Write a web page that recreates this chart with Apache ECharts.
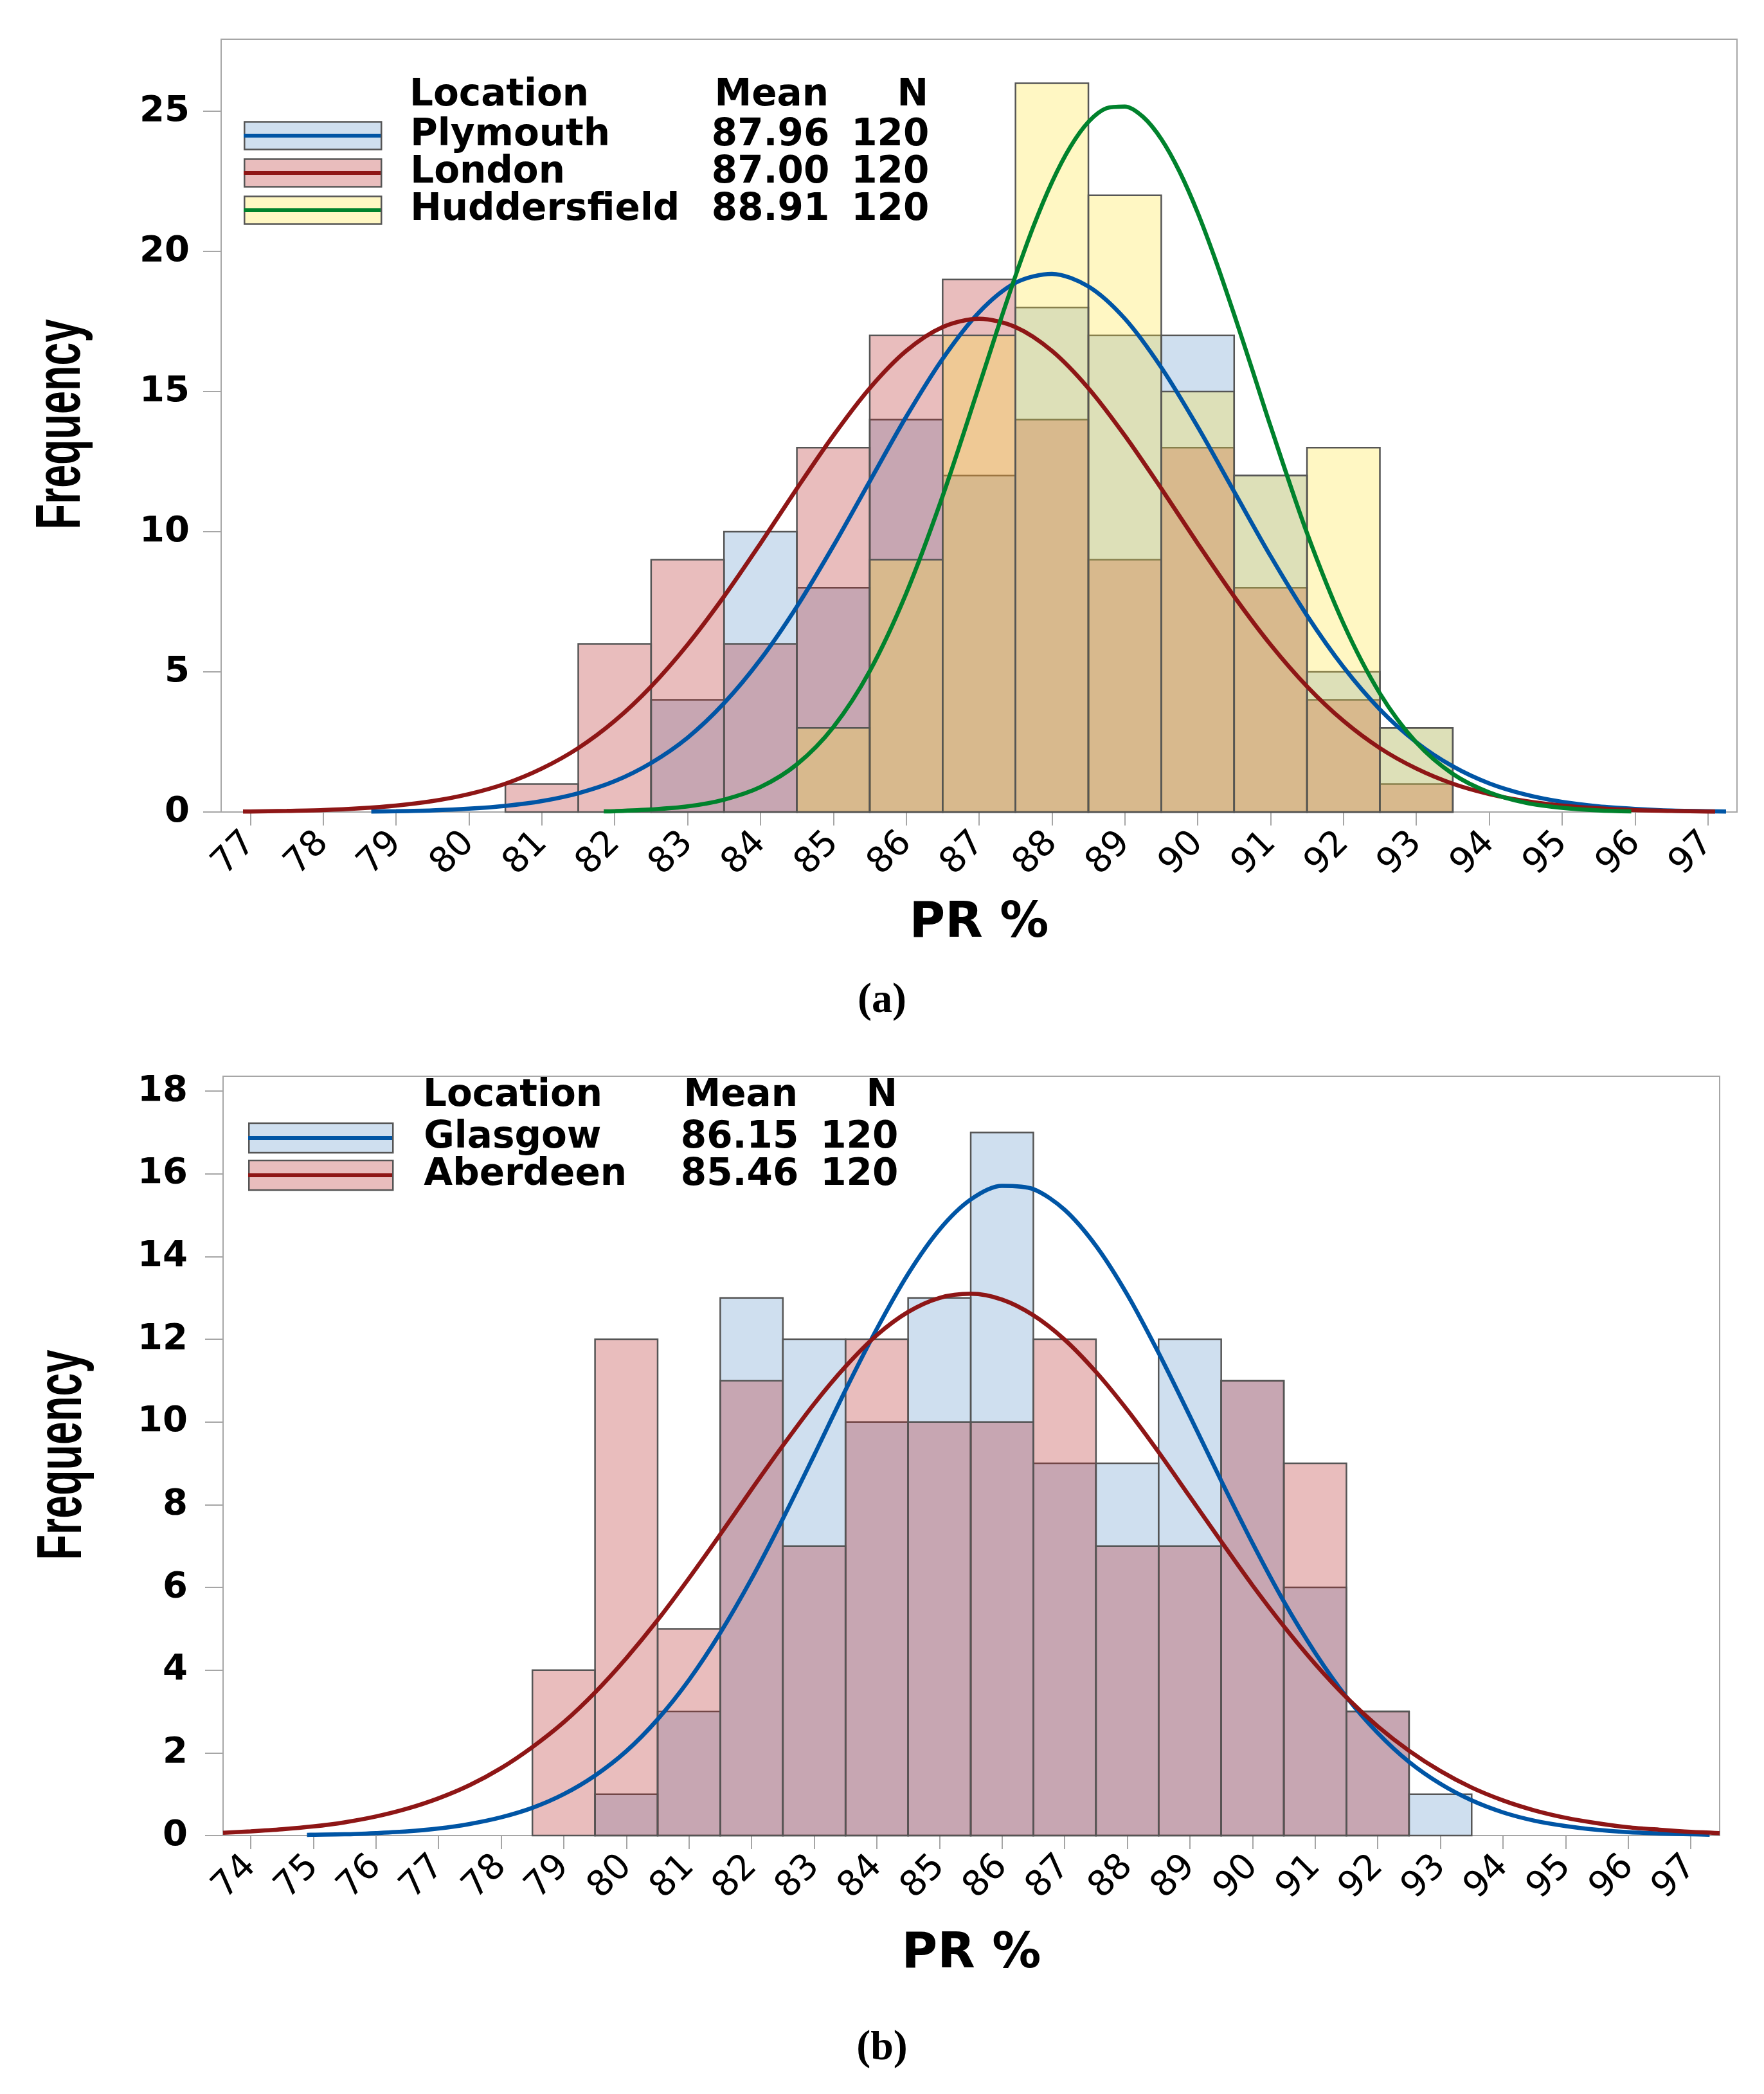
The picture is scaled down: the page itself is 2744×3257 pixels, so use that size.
<!DOCTYPE html>
<html lang="en">
<head>
  <meta charset="UTF-8">
  <title>PR % histograms</title>
  <style>
    html, body { margin: 0; padding: 0; background: #fff; }
    #main { width: 2744px; height: 3257px; }
  </style>
</head>
<body>
  <div id="main"></div>

  <script src="https://cdn.jsdelivr.net/npm/echarts@6.0.0/dist/echarts.min.js"></script>

  <script>
    // ---- chart (a) ----
    const binsA = [81, 82, 83, 84, 85, 86, 87, 88, 89, 90, 91, 92, 93]
    const plymouthA = [0, 0, 4, 10, 8, 14, 12, 18, 17, 17, 12, 5, 3]
    const londonA = [1, 6, 9, 6, 13, 17, 19, 14, 9, 13, 8, 4, 1]
    const huddA = [0, 0, 0, 0, 3, 9, 17, 26, 22, 15, 12, 13, 3]

    const locationsA = ['Plymouth', 'London', 'Huddersfield']
    const meansA = ['87.96', '87.00', '88.91']
    const countsA = [120, 120, 120]

    // fitted normal curves [PR %, frequency]
    const fitPlymouthA = [[78.66, 0.02], [79, 0.03], [79.5, 0.06], [80, 0.12], [80.5, 0.22], [81, 0.39], [81.5, 0.67], [82, 1.10], [82.5, 1.75], [83, 2.65], [83.5, 3.88], [84, 5.44], [84.5, 7.33], [85, 9.49], [85.5, 11.80], [86, 14.10], [86.5, 16.17], [87, 17.83], [87.5, 18.88], [88, 19.20], [88.5, 18.75], [89, 17.60], [89.5, 15.86], [90, 13.74], [90.5, 11.43], [91, 9.13], [91.5, 7.01], [92, 5.17], [92.5, 3.66], [93, 2.49], [93.5, 1.63], [94, 1.02], [94.5, 0.62], [95, 0.36], [95.5, 0.20], [96, 0.11], [96.5, 0.05], [97, 0.03], [97.25, 0.02]]
    const fitLondonA = [[76.9, 0.015], [77, 0.02], [77.5, 0.04], [78, 0.07], [78.5, 0.13], [79, 0.23], [79.5, 0.39], [80, 0.64], [80.5, 1.01], [81, 1.55], [81.5, 2.28], [82, 3.25], [82.5, 4.48], [83, 5.97], [83.5, 7.69], [84, 9.58], [84.5, 11.54], [85, 13.43], [85.5, 15.12], [86, 16.45], [86.5, 17.30], [87, 17.60], [87.5, 17.30], [88, 16.45], [88.5, 15.12], [89, 13.43], [89.5, 11.54], [90, 9.58], [90.5, 7.69], [91, 5.97], [91.5, 4.48], [92, 3.25], [92.5, 2.28], [93, 1.55], [93.5, 1.01], [94, 0.64], [94.5, 0.39], [95, 0.23], [95.5, 0.13], [96, 0.07], [96.5, 0.04], [97, 0.02], [97.1, 0.015]]
    const fitHuddA = [[81.85, 0.025], [82, 0.03], [82.5, 0.09], [83, 0.20], [83.5, 0.44], [84, 0.89], [84.5, 1.70], [85, 3.03], [85.5, 5.03], [86, 7.80], [86.5, 11.27], [87, 15.20], [87.25, 17.20], [87.5, 19.13], [87.75, 20.92], [88, 22.47], [88.25, 23.72], [88.5, 24.62], [88.75, 25.11], [89, 25.17], [89.25, 24.80], [89.5, 24.01], [89.75, 22.85], [90, 21.38], [90.25, 19.65], [90.5, 17.75], [90.75, 15.77], [91, 13.76], [91.5, 9.95], [92, 6.72], [92.5, 4.23], [93, 2.48], [93.5, 1.36], [94, 0.70], [94.5, 0.33], [95, 0.15], [95.5, 0.06], [95.95, 0.025]]

    const xTicksA = [77, 78, 79, 80, 81, 82, 83, 84, 85, 86, 87, 88, 89, 90, 91, 92, 93, 94, 95, 96, 97]
    const yTicksA = [0, 5, 10, 15, 20, 25]

    // ---- chart (b) ----
    const binsB = [79, 80, 81, 82, 83, 84, 85, 86, 87, 88, 89, 90, 91, 92, 93]
    const glasgowB = [0, 1, 3, 13, 12, 10, 13, 17, 9, 9, 12, 11, 6, 3, 1]
    const aberdeenB = [4, 12, 5, 11, 7, 12, 10, 10, 12, 7, 7, 11, 9, 3, 0]

    const locationsB = ['Glasgow', 'Aberdeen']
    const meansB = ['86.15', '85.46']
    const countsB = [120, 120]

    const fitGlasgowB = [[74.9, 0.017], [75, 0.02], [75.5, 0.03], [76, 0.06], [76.5, 0.10], [77, 0.17], [77.5, 0.28], [78, 0.44], [78.5, 0.67], [79, 1.00], [79.5, 1.45], [80, 2.04], [80.5, 2.81], [81, 3.76], [81.5, 4.90], [82, 6.21], [82.5, 7.66], [83, 9.20], [83.5, 10.77], [84, 12.25], [84.5, 13.58], [85, 14.65], [85.5, 15.38], [86, 15.71], [86.5, 15.63], [87, 15.13], [87.5, 14.26], [88, 13.08], [88.5, 11.67], [89, 10.14], [89.5, 8.58], [90, 7.07], [90.5, 5.66], [91, 4.42], [91.5, 3.35], [92, 2.48], [92.5, 1.78], [93, 1.25], [93.5, 0.85], [94, 0.56], [94.5, 0.36], [95, 0.23], [95.5, 0.14], [96, 0.08], [96.5, 0.05], [97, 0.03], [97.3, 0.02]]
    const fitAberdeenB = [[73.56, 0.065], [74, 0.10], [74.5, 0.15], [75, 0.22], [75.5, 0.32], [76, 0.46], [76.5, 0.65], [77, 0.90], [77.5, 1.22], [78, 1.63], [78.5, 2.14], [79, 2.74], [79.5, 3.46], [80, 4.29], [80.5, 5.21], [81, 6.22], [81.5, 7.28], [82, 8.37], [82.5, 9.43], [83, 10.44], [83.5, 11.34], [84, 12.10], [84.5, 12.66], [85, 13.00], [85.5, 13.10], [86, 12.96], [86.5, 12.58], [87, 11.99], [87.5, 11.21], [88, 10.29], [88.5, 9.27], [89, 8.19], [89.5, 7.11], [90, 6.05], [90.5, 5.06], [91, 4.15], [91.5, 3.34], [92, 2.64], [92.5, 2.05], [93, 1.56], [93.5, 1.16], [94, 0.85], [94.5, 0.61], [95, 0.43], [95.5, 0.30], [96, 0.20], [96.5, 0.14], [97, 0.09], [97.46, 0.06]]

    const xTicksB = [74, 75, 76, 77, 78, 79, 80, 81, 82, 83, 84, 85, 86, 87, 88, 89, 90, 91, 92, 93, 94, 95, 96, 97]
    const yTicksB = [0, 2, 4, 6, 8, 10, 12, 14, 16, 18]

    const captions = ['a', 'b']
    const yTitle = 'Frequency'

    // colours
    const FILL_BLUE = 'rgba(95,148,202,0.3)'
    const FILL_RED = 'rgba(182,38,38,0.3)'
    const FILL_YELLOW = 'rgba(255,228,55,0.3)'
    const LINE_BLUE = '#0055a5'
    const LINE_RED = '#8e1616'
    const LINE_GREEN = '#00822c'
    const AXIS = '#a6a6a6'
    const BAR_EDGE = '#555555'
    const FONT = 'DejaVu Sans'

    function histSeries(name, idx, bins, counts, fill) {
      return {
        type: 'custom',
        name: name,
        xAxisIndex: idx,
        yAxisIndex: idx,
        itemStyle: { color: fill },
        encode: { x: 0, y: 1 },
        data: bins.map((b, i) => [b, counts[i]]).filter(d => d[1] > 0),
        z: 2,
        renderItem: function (params, api) {
          const x = api.value(0)
          const y = api.value(1)
          const p0 = api.coord([x - 0.5, y])
          const p1 = api.coord([x + 0.5, 0])
          return {
            type: 'rect',
            shape: { x: p0[0], y: p0[1], width: p1[0] - p0[0], height: p1[1] - p0[1] },
            style: { fill: fill, stroke: BAR_EDGE, lineWidth: 2.5 }
          }
        }
      }
    }

    function fitSeries(name, idx, pts, color) {
      return {
        type: 'line',
        name: name,
        xAxisIndex: idx,
        yAxisIndex: idx,
        data: pts,
        smooth: 0.3,
        smoothConstraint: false,
        symbol: 'none',
        showSymbol: false,
        color: color,
        lineStyle: { color: color, width: 6.5 },
        z: 5
      }
    }

    function tableRich(nameW, pad, lh, color) {
      const base = { fontFamily: FONT, fontSize: 58, fontWeight: 'bold', color: color, lineHeight: lh }
      return {
        n: Object.assign({}, base, { width: nameW, padding: [0, 0, 0, pad], align: 'left' }),
        m: Object.assign({}, base, { width: 189, align: 'right' }),
        c: Object.assign({}, base, { width: 155, align: 'right' })
      }
    }

    function legends(names, fills, lineColors, means, ns, box) {
      const fitNames = names.map(n => n + ' fit')
      const swatches = {
        left: box.left, top: box.top, orient: 'vertical', padding: 0,
        itemWidth: box.w, itemHeight: box.h, itemGap: 0, icon: 'rect',
        selectedMode: false,
        data: names.map((n, i) => ({ name: n, itemStyle: { color: fills[i], borderColor: BAR_EDGE, borderWidth: 2.5 } })),
        formatter: function (name) {
          const i = names.indexOf(name)
          return '{n|' + name + '}{m|' + means[i] + '}{c|' + ns[i] + '}'
        },
        textStyle: { fontSize: 58, rich: tableRich(box.nameW, box.pad, box.lh, '#000') }
      }
      const strokes = {
        left: box.left, top: box.top, orient: 'vertical', padding: 0, z: 6,
        itemWidth: box.w, itemHeight: 6, itemGap: 0, icon: 'rect',
        selectedMode: false,
        data: fitNames.map((n, i) => ({ name: n, itemStyle: { color: lineColors[i], borderWidth: 0 } })),
        formatter: function (name) {
          const i = fitNames.indexOf(name)
          return '{n|' + names[i] + '}{m|' + means[i] + '}{c|' + ns[i] + '}'
        },
        textStyle: { fontSize: 58, rich: tableRich(box.nameW, box.pad, box.lh, 'rgba(0,0,0,0)') }
      }
      return [swatches, strokes]
    }

    function xAxis(idx, min, max, ticks, gap) {
      return {
        type: 'value', gridIndex: idx, min: min, max: max,
        axisLine: { show: true, onZero: false, lineStyle: { color: AXIS, width: 2 } },
        axisTick: { show: true, customValues: ticks, length: 21, lineStyle: { color: AXIS, width: 2 } },
        axisLabel: { customValues: ticks, rotate: 45, margin: 40, fontFamily: FONT, fontSize: 55, color: '#000' },
        splitLine: { show: false },
        name: 'PR %', nameLocation: 'middle', nameGap: gap, nameMoveOverlap: false,
        nameTextStyle: { fontFamily: FONT, fontSize: 76, fontWeight: 'bold', color: '#000' }
      }
    }

    function yAxis(idx, max, ticks, margin) {
      return {
        type: 'value', gridIndex: idx, min: 0, max: max,
        axisLine: { show: true, lineStyle: { color: AXIS, width: 2 } },
        axisTick: { show: true, customValues: ticks, length: 28, lineStyle: { color: AXIS, width: 2 } },
        axisLabel: { customValues: ticks, margin: margin, fontFamily: FONT, fontSize: 56, fontWeight: 'bold', color: '#000' },
        splitLine: { show: false }
      }
    }

    // condensed, rotated axis title (the source figure is squeezed along the text)
    function yName(cx, cy) {
      return {
        type: 'text', x: cx, y: cy, rotation: Math.PI / 2, scaleX: 0.66,
        style: {
          text: yTitle, fontFamily: 'Liberation Sans', fontSize: 98, fontWeight: 'bold', fill: '#000',
          align: 'center', verticalAlign: 'middle'
        }
      }
    }

    function caption(letter, top) {
      return {
        text: '{p|(}{b|' + letter + '}{p|)}', left: 'center', top: top, padding: 0,
        textStyle: {
          rich: {
            p: { fontFamily: 'Liberation Serif', fontSize: 66, color: '#000' },
            b: { fontFamily: 'Liberation Serif', fontSize: 64, fontWeight: 'bold', color: '#000' }
          }
        }
      }
    }

    function header(left, top, nameW, pad, lh) {
      return {
        text: '{n|Location}{m|Mean}{c|N}', left: left, top: top, padding: 0,
        textStyle: { fontSize: 58, rich: tableRich(nameW, pad, lh, '#000') }
      }
    }

    const boxA = { left: 379, top: 182, w: 213, h: 43, lh: 57, nameW: 463, pad: 40 }
    const boxB = { left: 386, top: 1741, w: 224, h: 46, lh: 60, nameW: 394, pad: 43 }

    const chart = echarts.init(document.getElementById('main'), null, { renderer: 'canvas' })

    const option = {
      animation: false,
      backgroundColor: '#fff',
      title: [
        caption(captions[0], 1524),
        caption(captions[1], 3153),
        header(boxA.left + boxA.w + 5, 120, boxA.nameW, boxA.pad, boxA.lh),
        header(boxB.left + boxB.w + 5, 1675, boxB.nameW, boxB.pad, boxB.lh)
      ],
      legend: legends(locationsA, [FILL_BLUE, FILL_RED, FILL_YELLOW], [LINE_BLUE, LINE_RED, LINE_GREEN], meansA, countsA, boxA)
        .concat(legends(locationsB, [FILL_BLUE, FILL_RED], [LINE_BLUE, LINE_RED], meansB, countsB, boxB)),
      grid: [
        { left: 344, top: 61, width: 2358, height: 1202, show: true, borderColor: AXIS, borderWidth: 2, containLabel: false, outerBoundsMode: 'none' },
        { left: 347, top: 1674, width: 2328, height: 1181, show: true, borderColor: AXIS, borderWidth: 2, containLabel: false, outerBoundsMode: 'none' }
      ],
      xAxis: [
        xAxis(0, 76.6, 97.4, xTicksA, 136),
        xAxis(1, 73.56, 97.46, xTicksB, 147)
      ],
      yAxis: [
        yAxis(0, 27.57, yTicksA, 49),
        yAxis(1, 18.36, yTicksB, 55)
      ],
      graphic: [
        yName(97, 660),
        yName(99, 2263)
      ],
      series: [
        histSeries('Plymouth', 0, binsA, plymouthA, FILL_BLUE),
        histSeries('London', 0, binsA, londonA, FILL_RED),
        histSeries('Huddersfield', 0, binsA, huddA, FILL_YELLOW),
        fitSeries('Plymouth fit', 0, fitPlymouthA, LINE_BLUE),
        fitSeries('London fit', 0, fitLondonA, LINE_RED),
        fitSeries('Huddersfield fit', 0, fitHuddA, LINE_GREEN),
        histSeries('Glasgow', 1, binsB, glasgowB, FILL_BLUE),
        histSeries('Aberdeen', 1, binsB, aberdeenB, FILL_RED),
        fitSeries('Glasgow fit', 1, fitGlasgowB, LINE_BLUE),
        fitSeries('Aberdeen fit', 1, fitAberdeenB, LINE_RED)
      ]
    }

    chart.setOption(option)
  </script>
</body>
</html>
